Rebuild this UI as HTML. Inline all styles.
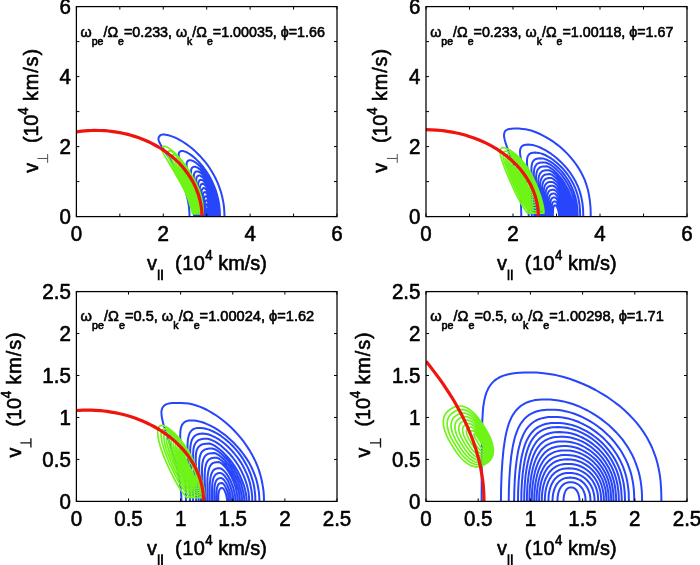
<!DOCTYPE html>
<html><head><meta charset="utf-8"><title>fig</title>
<style>html,body{margin:0;padding:0;background:#fff;overflow:hidden}svg{display:block;will-change:transform}text{font-family:"Liberation Sans",sans-serif;fill:#000;stroke:#000;stroke-width:0.6px;stroke-linejoin:round}</style></head>
<body>
<svg width="700" height="565" viewBox="0 0 700 565">
<rect width="700" height="565" fill="#fff"/>
<clipPath id="cp0"><rect x="76.40" y="6.60" width="260.60" height="210.00"/></clipPath>
<g clip-path="url(#cp0)" fill="none" stroke-linejoin="round" stroke-linecap="butt">
<path d="M224.5 216.6L224.4 213.4L224.2 209.4L223.8 205.7L223.3 202.1L222.6 198.7L221.9 195.4L221.0 192.2L220.0 189.1L217.8 183.2L216.5 180.3L214.7 176.7L213.3 174.1L211.3 170.7L209.3 167.5L207.1 164.4L204.8 161.5L202.5 158.8L200.2 156.2L197.2 153.2L194.9 150.9L191.9 148.3L188.9 146.0L186.0 143.9L183.2 142.0L179.9 140.1L176.8 138.4L173.9 137.1L171.2 136.1L168.4 135.2L165.9 134.7L163.8 134.5L162.2 134.6L161.2 134.9L160.1 135.5L159.4 136.2L158.8 137.1L158.5 138.2L158.5 139.4L158.8 140.8L159.9 143.3L161.6 146.4L170.9 160.4L173.4 164.5L175.6 168.2L177.4 171.6L179.3 175.2L181.0 178.9L182.4 182.2L184.2 187.0L185.6 191.2L186.8 195.7L187.7 199.5L188.5 203.5L189.0 207.8L189.4 212.3L189.5 216.6M220.0 216.6L219.8 210.7L219.3 205.6L218.5 200.8L217.2 195.4L215.7 190.4L213.9 185.6L211.6 180.5L209.1 175.8L206.1 171.0L202.9 166.7L199.3 162.5L195.5 158.6L193.5 156.9L191.6 155.4L189.7 154.1L188.0 153.0L186.4 152.2L184.7 151.5L183.4 151.1L182.1 151.0L181.2 151.1L180.5 151.3L179.7 151.9L179.1 152.5L178.9 153.2L178.7 154.1L178.7 155.2L178.9 156.5L179.5 158.9L180.5 161.7L185.2 173.9L187.5 180.3L189.3 185.8L190.7 191.1L192.1 197.4L193.2 204.0L193.8 210.6L194.0 216.6M218.9 216.6L218.7 211.7L218.3 207.4L217.7 202.7L216.8 198.3L215.6 194.1L214.1 189.5L212.4 185.3L210.5 181.3L208.3 177.3L205.7 173.2L203.0 169.8L200.2 166.5L197.2 163.8L194.5 161.8L193.3 161.1L192.1 160.6L190.9 160.3L190.0 160.2L189.2 160.3L188.4 160.6L187.7 161.1L187.2 161.7L186.9 162.5L186.6 163.5L186.6 164.6L186.6 166.0L186.9 168.1L187.4 170.7L191.4 186.8L192.5 192.1L193.4 196.8L194.1 201.7L194.7 207.0L195.0 212.1L195.1 216.6M217.8 216.6L217.7 212.3L217.3 208.0L216.8 204.0L216.1 200.2L215.2 196.5L214.0 192.6L212.7 188.9L211.0 185.0L209.2 181.5L207.1 178.0L205.0 175.0L202.7 172.2L200.4 169.8L198.2 168.1L197.2 167.5L196.2 167.1L195.3 166.8L194.5 166.7L193.7 166.8L192.8 167.2L192.2 167.7L191.7 168.4L191.3 169.2L191.1 170.3L191.0 172.9L191.2 175.1L191.6 178.0L194.0 192.5L195.1 200.3L195.9 208.6L196.1 212.6L196.2 216.6M216.7 216.6L216.6 212.8L216.3 208.9L215.9 205.3L215.3 201.9L214.5 198.2L213.5 194.7L212.4 191.4L211.0 187.9L209.4 184.4L207.6 181.3L205.9 178.6L204.0 176.2L202.2 174.2L200.3 172.6L198.7 171.7L197.9 171.4L197.2 171.4L196.4 171.5L195.6 171.8L195.1 172.2L194.6 172.8L194.2 173.6L194.0 174.7L193.8 177.3L193.9 179.7L194.2 182.7L195.9 196.0L196.6 203.0L197.1 210.2L197.3 216.6M215.6 216.6L215.5 213.2L215.3 209.8L214.9 206.5L214.4 203.0L213.7 199.7L212.9 196.5L212.0 193.6L210.8 190.5L209.5 187.4L208.1 184.6L206.5 182.0L204.9 179.8L203.4 178.0L201.8 176.7L200.4 175.8L199.8 175.6L199.2 175.6L198.5 175.7L197.8 176.0L197.2 176.5L196.8 177.1L196.5 177.8L196.3 178.9L196.1 181.4L196.1 183.6L196.3 186.7L197.5 199.2L198.0 205.6L198.3 211.1L198.4 216.6M214.6 216.6L214.5 213.1L214.3 210.1L214.0 207.3L213.6 204.2L213.0 201.2L212.4 198.4L211.5 195.5L210.6 192.8L209.5 190.1L208.3 187.6L207.0 185.3L205.7 183.4L204.5 181.9L203.2 180.7L202.0 180.0L201.0 179.8L200.4 179.9L199.7 180.2L199.3 180.6L198.9 181.2L198.5 182.0L198.3 183.0L198.0 185.5L198.0 187.8L198.1 191.0L199.2 208.4L199.4 216.6M213.6 216.6L213.4 210.9L212.8 205.6L211.8 200.3L210.4 195.4L209.5 192.9L208.5 190.8L207.5 188.7L206.5 187.0L205.4 185.7L204.4 184.6L203.4 184.0L202.5 183.8L201.8 184.0L201.4 184.2L201.0 184.6L200.6 185.2L200.0 186.9L199.7 189.3L199.7 194.5L200.2 209.0L200.4 216.6M212.6 216.6L212.4 211.7L212.0 206.9L211.2 202.3L210.0 197.8L208.6 193.9L207.8 192.2L207.0 190.7L206.2 189.6L205.3 188.7L204.6 188.2L203.8 188.0L203.3 188.2L202.9 188.4L202.5 188.7L202.1 189.3L201.6 190.9L201.3 193.3L201.1 195.9L201.1 199.3L201.4 216.6M211.6 216.6L211.5 212.1L211.1 208.1L210.5 204.0L209.6 200.2L208.6 196.9L207.3 194.3L206.7 193.3L206.1 192.6L205.5 192.2L204.9 192.1L204.4 192.2L204.1 192.4L203.7 192.7L203.4 193.3L202.9 194.8L202.6 197.0L202.4 199.7L202.3 203.1L202.4 216.6M210.7 216.6L210.6 212.7L210.3 209.1L209.9 205.8L209.3 202.7L208.5 199.9L207.6 197.9L207.1 197.1L206.7 196.6L206.2 196.3L205.8 196.2L205.4 196.2L205.1 196.4L204.5 197.2L204.1 198.6L203.7 200.6L203.5 203.3L203.3 206.6L203.3 216.6M209.8 216.6L209.7 213.5L209.5 210.5L209.2 207.7L208.8 205.1L208.3 203.0L207.7 201.4L207.0 200.5L206.7 200.2L206.4 200.2L205.9 200.4L205.4 201.1L205.0 202.3L204.7 204.1L204.3 209.2L204.2 216.6M208.9 216.6L208.8 211.8L208.3 207.7L208.0 206.2L207.7 205.1L207.3 204.4L206.9 204.2L206.5 204.3L206.1 204.9L205.8 205.9L205.5 207.4L205.2 211.4L205.1 216.6M208.0 216.6L207.9 213.2L207.8 210.7L207.5 209.2L207.3 208.8L207.1 208.7L206.9 208.8L206.7 209.3L206.3 211.0L206.1 213.5L206.0 216.6" stroke="#2745fa" stroke-width="2.0"/>
<path d="M193.4 178.3L189.0 170.8L185.2 165.0L183.2 162.4L181.1 159.7L178.9 157.2L176.9 155.0L174.5 152.7L172.2 150.7L169.9 148.9L167.7 147.5L165.9 146.6L164.5 146.3L163.4 146.3L163.0 146.5L162.6 146.9L162.1 147.3L161.9 147.8L161.8 148.4L161.8 149.1L162.2 150.8L163.3 153.2L165.6 157.3L174.2 171.8L181.6 184.9L183.5 188.5L185.4 192.5L187.4 197.2L189.0 201.7L190.6 206.7L192.7 214.0L202.8 214.0L203.0 210.5L202.9 206.8L202.5 202.7L201.7 198.5L200.6 194.3L199.3 190.3L197.7 186.4L195.9 182.6L193.4 178.3ZM194.1 180.4L190.2 173.2L187.0 168.1L183.4 163.0L179.8 158.6L177.8 156.5L175.8 154.6L173.9 153.1L172.3 151.9L170.9 151.2L169.7 150.9L168.8 150.9L168.1 151.4L167.5 152.2L167.3 153.2L167.6 154.7L168.3 156.6L170.4 161.1L183.9 186.5L186.3 191.3L188.2 195.7L190.0 200.6L191.4 204.9L194.2 214.0L202.1 214.0L202.4 211.6L202.5 209.0L202.4 205.7L201.9 202.1L201.3 198.7L200.4 195.1L199.2 191.5L197.7 187.6L196.2 184.3L194.1 180.4ZM194.6 182.0L191.2 175.5L188.4 170.5L185.3 165.9L182.1 161.7L180.4 159.8L178.7 158.1L177.1 156.7L175.8 155.7L174.6 155.0L173.6 154.7L172.8 154.8L172.2 155.2L171.6 155.9L171.5 157.0L171.8 158.6L172.5 160.6L174.8 165.6L186.0 188.3L187.9 192.5L189.4 196.1L190.8 200.0L194.4 211.2L195.4 214.0L201.6 214.0L202.0 211.0L202.1 207.6L201.9 204.6L201.4 201.3L200.8 198.2L200.0 194.9L198.9 191.7L197.7 188.6L196.4 185.6L194.6 182.0ZM195.0 183.6L192.0 177.3L189.5 172.8L186.9 168.6L184.2 164.8L181.3 161.5L180.0 160.3L178.9 159.4L177.9 158.8L177.1 158.5L176.4 158.5L175.8 158.9L175.4 159.2L175.2 159.6L175.2 160.7L175.5 162.2L176.2 164.5L178.8 170.6L185.1 184.3L187.6 189.4L189.1 192.9L191.7 199.7L195.4 210.9L196.1 212.7L196.8 214.0L200.8 214.0L201.3 212.5L201.6 210.7L201.7 208.5L201.7 206.1L201.4 203.6L201.0 200.9L200.5 198.2L199.7 195.2L198.8 192.3L197.7 189.5L196.6 186.7L195.0 183.6ZM195.4 185.0L192.4 178.6L190.0 174.0L187.2 169.5L184.6 166.0L183.3 164.5L182.1 163.3L181.0 162.5L180.2 162.2L179.4 162.2L178.7 162.7L178.4 163.4L178.4 164.5L179.1 167.0L180.7 171.2L185.9 183.3L189.2 190.8L190.8 194.7L192.5 199.2L195.4 208.0L196.4 210.7L197.1 212.2L197.8 213.1L198.5 213.5L199.3 213.6L200.0 213.3L200.4 212.8L200.9 211.8L201.1 210.4L201.3 208.7L201.3 206.8L201.2 204.8L201.0 202.5L200.2 198.3L199.0 194.0L197.5 189.7L195.4 185.0ZM195.7 186.4L193.2 180.7L191.0 176.4L188.7 172.4L186.4 169.1L185.4 167.8L184.4 166.8L183.5 166.1L182.8 165.8L182.1 165.8L181.5 166.3L181.3 166.9L181.3 167.9L181.9 170.1L183.0 173.3L186.4 181.9L191.5 194.1L193.1 198.3L195.8 206.4L196.7 208.9L197.4 210.3L198.0 211.3L198.6 211.7L199.4 211.7L199.9 211.5L200.3 211.0L200.6 210.1L200.9 208.9L201.0 205.8L200.6 202.1L199.9 198.4L198.8 194.4L197.5 190.6L195.7 186.4ZM196.0 187.8L193.8 182.5L192.0 178.7L190.0 175.1L188.1 172.2L186.3 170.2L185.6 169.6L185.1 169.4L184.5 169.4L184.0 169.8L183.9 170.4L184.0 171.4L184.5 173.5L185.6 176.7L188.5 184.3L192.6 194.5L197.0 207.1L197.6 208.6L198.2 209.4L198.7 209.9L199.4 209.9L199.8 209.8L200.1 209.4L200.4 208.6L200.5 207.7L200.6 205.0L200.3 201.8L199.6 198.5L198.7 195.0L197.5 191.4L196.0 187.8ZM196.3 189.1L194.4 184.5L192.8 181.1L191.2 177.9L189.7 175.4L188.2 173.6L187.6 173.1L187.2 172.9L186.7 173.0L186.4 173.3L186.3 173.8L186.3 174.7L186.8 176.6L187.8 179.6L193.5 194.6L197.3 205.6L197.9 206.9L198.4 207.7L198.8 208.1L199.3 208.2L199.7 208.0L199.9 207.7L200.2 206.2L200.2 203.9L199.9 201.2L199.3 198.3L198.5 195.3L197.5 192.3L196.3 189.1ZM196.5 190.5L195.0 186.6L193.7 183.7L192.4 180.9L191.1 178.8L190.0 177.2L189.5 176.7L189.1 176.5L188.8 176.5L188.5 176.7L188.4 177.2L188.5 177.9L188.8 179.3L189.6 181.6L194.4 194.6L197.6 204.2L198.5 206.0L198.9 206.4L199.3 206.4L199.5 206.3L199.7 206.0L199.9 204.9L199.8 203.1L199.5 200.7L199.0 198.3L198.4 195.8L197.5 193.3L196.5 190.5ZM196.7 191.7L194.6 186.4L193.5 184.1L192.5 182.2L191.5 180.8L190.9 180.1L190.6 180.0L190.4 180.1L190.4 180.9L191.2 183.5L195.3 194.7L198.0 203.1L198.6 204.5L198.9 204.7L199.2 204.7L199.3 204.6L199.4 204.4L199.5 203.5L199.4 202.0L199.1 200.1L198.1 196.1L196.7 191.7ZM196.9 193.0L195.6 189.6L194.2 186.6L192.8 184.2L192.3 183.6L192.0 183.5L192.0 183.9L192.3 184.7L194.6 190.4L195.8 193.9L198.7 202.8L198.9 203.0L199.0 203.1L199.1 202.7L199.1 201.7L198.8 200.2L198.0 196.7L196.9 193.0Z" stroke="#6ef416" stroke-width="1.7"/>
<path d="M76.4 131.9L81.8 131.2L84.9 130.9L88.0 130.6L91.1 130.5L94.2 130.4L99.6 130.5L105.1 130.7L108.2 131.0L111.3 131.3L116.6 132.1L119.7 132.6L122.7 133.2L128.0 134.4L130.9 135.2L133.8 136.1L138.9 137.8L143.8 139.7L148.6 141.8L151.3 143.1L153.9 144.5L158.4 147.0L160.9 148.5L163.3 150.1L165.7 151.7L168.0 153.4L170.2 155.2L171.9 156.5L173.5 157.9L175.6 159.8L177.6 161.7L179.6 163.7L181.4 165.7L182.8 167.2L184.5 169.3L186.2 171.5L187.8 173.6L188.9 175.3L190.4 177.5L191.8 179.8L193.1 182.1L194.3 184.5L195.4 186.8L196.2 188.6L197.1 191.0L197.8 192.8L198.6 195.3L199.3 197.8L200.0 200.2L200.4 202.1L200.9 204.6L201.3 207.1L201.6 209.6L201.8 212.2L201.9 214.7L201.9 216.6" stroke="#ee150e" stroke-width="3.2"/>
</g>
<rect x="76.40" y="6.60" width="260.60" height="210.00" fill="none" stroke="#000" stroke-width="1.25"/>
<path d="M76.40 216.60v-3.0M76.40 6.60v3.0M119.83 216.60v-3.0M119.83 6.60v3.0M163.27 216.60v-3.0M163.27 6.60v3.0M206.70 216.60v-3.0M206.70 6.60v3.0M250.13 216.60v-3.0M250.13 6.60v3.0M293.57 216.60v-3.0M293.57 6.60v3.0M337.00 216.60v-3.0M337.00 6.60v3.0M76.40 216.60h3.0M337.00 216.60h-3.0M76.40 181.60h3.0M337.00 181.60h-3.0M76.40 146.60h3.0M337.00 146.60h-3.0M76.40 111.60h3.0M337.00 111.60h-3.0M76.40 76.60h3.0M337.00 76.60h-3.0M76.40 41.60h3.0M337.00 41.60h-3.0M76.40 6.60h3.0M337.00 6.60h-3.0" stroke="#000" stroke-width="1" fill="none"/>
<text transform="translate(76.40,241.20) scale(0.96,1)" font-size="21.4" text-anchor="middle">0</text>
<text transform="translate(163.27,241.20) scale(0.96,1)" font-size="21.4" text-anchor="middle">2</text>
<text transform="translate(250.13,241.20) scale(0.96,1)" font-size="21.4" text-anchor="middle">4</text>
<text transform="translate(337.00,241.20) scale(0.96,1)" font-size="21.4" text-anchor="middle">6</text>
<text transform="translate(70.90,224.40) scale(0.96,1)" font-size="21.4" text-anchor="end">0</text>
<text transform="translate(70.90,154.40) scale(0.96,1)" font-size="21.4" text-anchor="end">2</text>
<text transform="translate(70.90,84.40) scale(0.96,1)" font-size="21.4" text-anchor="end">4</text>
<text transform="translate(70.90,14.40) scale(0.96,1)" font-size="21.4" text-anchor="end">6</text>
<g transform="translate(147.10,269.70) scale(0.95,1)"><text x="0" y="0" font-size="21.0">v</text><text x="29.4" y="0" font-size="21.0"><tspan letter-spacing="0.5">(10</tspan><tspan dy="-10.0" font-size="14.0">4</tspan><tspan dy="10.0" font-size="21.0" letter-spacing="0"> km/s)</tspan></text><path d="M12.2 -0.2v10.7M15.7 -0.2v10.7" stroke="#000" stroke-width="1.9" fill="none"/></g>
<g transform="translate(37.80,174.00) rotate(-90) scale(0.9405,1.0)"><text x="1.3" y="0" font-size="21.0">v</text><text x="32.9" y="0" font-size="21.0"><tspan letter-spacing="-0.1">(10</tspan><tspan dy="-10.0" font-size="14.0">4</tspan><tspan dy="10.0" font-size="21.0" letter-spacing="1.0"> km/s)</tspan></text><path d="M11.8 9.84h9.41M16.50 9.84v-10.27" stroke="#444" stroke-width="0.95" fill="none"/></g>
<text transform="translate(80.60,37.40) scale(0.9930,1)" font-size="14.4">ω<tspan dy="7.7" font-size="10.6">pe</tspan><tspan dy="-7.7" font-size="14.4">/Ω</tspan><tspan dy="7.7" font-size="10.6">e</tspan><tspan dy="-7.7" font-size="14.4">=0.233, ω</tspan><tspan dy="7.7" font-size="10.6">k</tspan><tspan dy="-7.7" font-size="14.4">/Ω</tspan><tspan dy="7.7" font-size="10.6">e</tspan><tspan dy="-7.7" font-size="14.4">=1.00035, ϕ=1.66</tspan></text>
<clipPath id="cp1"><rect x="426.00" y="6.60" width="261.00" height="210.00"/></clipPath>
<g clip-path="url(#cp1)" fill="none" stroke-linejoin="round" stroke-linecap="butt">
<path d="M590.7 216.6L590.7 212.1L590.5 207.5L590.2 204.0L589.7 199.5L589.1 195.6L588.2 191.0L587.3 187.8L586.1 183.9L584.8 180.2L583.3 176.8L581.7 173.6L579.6 169.8L577.8 166.9L575.5 163.5L573.1 160.3L570.6 157.3L567.5 153.9L564.3 150.8L561.1 147.8L557.8 145.1L554.0 142.2L550.1 139.6L546.3 137.3L542.6 135.3L538.9 133.5L535.3 132.0L531.8 130.8L528.8 129.9L525.7 129.3L522.5 128.9L518.8 128.6L514.4 128.6L511.4 128.7L509.3 128.9L507.5 129.5L506.1 130.3L505.0 131.3L504.4 132.6L504.1 134.1L504.0 136.1L504.6 139.3L505.7 143.4L507.2 147.6L512.0 160.7L514.7 168.9L516.5 175.6L518.1 182.0L519.5 189.9L520.1 194.6L520.6 198.6L520.9 202.8L521.1 207.4L521.3 216.6M583.3 216.6L583.1 209.6L582.5 203.7L582.0 200.6L581.4 197.6L580.7 194.7L579.9 191.9L578.9 189.2L577.9 186.5L576.7 183.9L575.2 180.8L573.8 178.4L572.0 175.5L570.5 173.2L568.5 170.5L566.4 167.9L564.2 165.4L562.0 163.1L559.2 160.5L556.5 158.0L553.7 155.8L550.9 153.7L548.1 151.8L545.4 150.2L542.7 148.8L540.2 147.5L537.3 146.4L534.9 145.6L532.7 145.0L530.4 144.7L528.0 144.6L526.1 144.7L524.4 145.0L523.0 145.5L521.8 146.4L521.0 147.3L520.4 148.8L520.1 150.2L520.0 152.1L520.2 155.1L520.8 158.4L525.0 177.8L526.2 183.9L527.1 189.8L527.8 196.2L528.3 203.0L528.6 209.6L528.7 216.6M580.2 216.6L580.0 210.3L579.5 204.5L578.6 199.1L577.3 194.0L575.7 189.3L573.5 184.2L570.9 179.5L568.1 175.2L566.4 172.9L564.3 170.3L562.5 168.2L560.3 166.0L556.1 162.2L553.9 160.4L551.6 158.8L549.4 157.3L547.2 156.1L545.1 155.0L542.7 154.0L540.7 153.4L538.8 152.9L536.8 152.7L535.0 152.6L533.0 152.7L531.5 153.0L530.3 153.5L529.1 154.3L528.3 155.4L527.6 156.7L527.2 158.3L527.0 160.4L527.0 163.5L527.3 167.1L529.9 185.3L531.0 195.3L531.6 205.2L531.8 216.6M577.7 216.6L577.5 210.9L577.1 206.1L576.4 201.5L575.2 196.5L573.9 192.2L572.0 187.6L569.9 183.3L567.5 179.2L564.6 175.0L561.2 170.9L557.6 167.3L554.1 164.2L552.2 162.8L550.3 161.6L548.5 160.6L546.7 159.7L545.1 159.1L543.5 158.6L541.9 158.4L540.7 158.3L538.5 158.4L536.7 158.7L535.3 159.2L534.2 160.0L533.2 161.1L532.4 162.5L531.9 164.2L531.6 166.1L531.4 169.3L531.5 172.9L531.9 177.9L533.2 192.1L533.8 198.9L534.2 207.5L534.3 216.6M576.1 216.6L576.0 212.1L575.5 207.6L574.8 203.1L573.9 199.1L572.7 195.1L571.1 190.8L569.1 186.6L567.0 182.7L564.3 178.6L561.5 174.9L558.6 171.6L555.4 168.5L552.3 166.0L550.6 164.9L549.1 164.0L547.6 163.3L546.2 162.8L545.0 162.5L544.0 162.4L541.6 162.5L539.8 162.7L538.4 163.2L537.1 163.9L536.1 164.9L535.2 166.4L534.5 168.1L534.1 170.1L533.8 173.3L533.9 177.8L534.1 182.2L535.5 201.6L535.8 209.1L535.9 216.6M574.6 216.6L574.4 213.2L574.0 209.2L573.3 205.3L572.4 201.2L571.1 197.2L569.7 193.5L568.2 190.0L566.2 186.2L564.1 182.6L561.8 179.2L559.1 175.9L556.5 172.9L553.7 170.3L551.1 168.3L548.6 166.9L547.5 166.4L546.7 166.3L544.1 166.4L542.3 166.6L540.8 167.0L539.5 167.7L538.4 168.7L537.5 170.0L536.9 171.6L536.4 173.7L536.0 177.1L535.9 181.9L536.1 186.5L537.1 204.4L537.3 210.3L537.4 216.6M573.0 216.6L572.9 213.5L572.5 209.8L571.9 206.2L571.0 202.4L569.9 198.7L568.7 195.3L567.4 192.1L565.7 188.5L563.8 185.2L561.8 182.1L559.5 179.0L557.2 176.3L554.7 173.9L552.4 172.0L550.2 170.7L549.2 170.3L548.5 170.2L546.1 170.3L544.5 170.5L543.0 170.9L541.7 171.6L540.7 172.6L539.9 173.8L539.2 175.3L538.7 177.2L538.4 179.0L538.2 181.0L538.1 186.2L538.2 191.0L538.8 206.6L539.0 216.6M571.5 216.6L571.4 213.4L571.0 210.0L570.4 206.7L569.6 203.2L568.6 199.8L567.6 196.7L566.4 193.8L564.9 190.6L563.2 187.5L561.4 184.7L559.4 181.9L557.4 179.5L555.2 177.3L553.2 175.7L551.3 174.5L550.5 174.2L549.9 174.1L547.7 174.2L546.0 174.4L544.7 174.8L543.6 175.5L542.6 176.4L541.8 177.7L541.2 179.1L540.6 180.9L540.3 182.6L540.1 184.7L539.9 189.9L540.4 209.2L540.5 216.6M569.9 216.6L569.8 213.7L569.4 210.6L568.9 207.6L568.3 204.5L567.4 201.3L566.5 198.6L565.4 195.9L564.1 192.9L562.7 190.2L561.1 187.6L559.4 185.1L557.6 182.9L555.7 180.9L553.9 179.4L552.3 178.4L551.6 178.1L551.0 178.0L549.0 178.0L547.5 178.3L546.4 178.6L545.3 179.2L544.4 180.1L543.6 181.2L543.0 182.7L542.5 184.4L542.2 186.1L542.0 188.1L541.7 193.0L542.1 216.6M568.4 216.6L568.3 214.0L568.0 211.2L567.6 208.5L567.0 205.7L566.2 202.9L565.3 200.1L564.4 197.7L563.2 195.1L562.0 192.6L560.7 190.3L559.1 188.1L557.6 186.1L556.1 184.5L554.6 183.2L553.1 182.2L552.0 181.9L550.2 181.9L548.9 182.1L547.7 182.5L546.8 183.1L546.0 183.9L545.3 184.9L544.7 186.2L544.2 187.8L543.9 189.4L543.7 191.4L543.4 196.1L543.6 216.6M566.8 216.6L566.7 214.3L566.4 211.8L566.1 209.4L565.6 206.9L564.9 204.4L564.2 201.9L562.4 197.5L561.3 195.3L560.1 193.1L558.9 191.3L557.6 189.5L556.3 188.1L555.0 186.9L553.8 186.1L552.8 185.8L551.3 185.8L550.1 186.0L549.1 186.3L548.2 186.9L547.5 187.5L546.9 188.5L546.3 189.7L545.9 191.0L545.4 194.2L545.1 198.7L545.1 203.4L545.2 216.6M565.3 216.6L565.0 212.4L564.3 208.1L563.1 203.8L561.6 199.9L560.7 198.0L559.7 196.0L558.7 194.5L557.6 193.0L556.5 191.6L555.4 190.6L554.4 190.0L553.6 189.7L552.3 189.7L551.3 189.9L550.4 190.2L549.6 190.6L548.9 191.3L548.4 192.1L547.9 193.2L547.5 194.4L547.0 197.4L546.7 201.4L546.6 205.9L546.7 216.6M563.7 216.6L563.5 213.0L562.8 209.2L561.8 205.4L560.6 202.1L559.1 198.9L557.4 196.3L556.6 195.2L555.7 194.4L554.9 193.8L554.2 193.6L553.0 193.6L552.2 193.8L551.4 194.0L550.8 194.4L550.3 195.0L549.8 195.8L549.4 196.7L549.1 197.7L548.6 200.3L548.4 203.7L548.3 207.9L548.3 216.6M562.2 216.6L562.0 213.6L561.5 210.6L560.8 207.5L559.8 204.6L558.6 201.9L557.3 199.7L556.0 198.1L555.3 197.7L554.8 197.5L553.2 197.6L552.6 197.9L552.1 198.2L551.6 198.7L551.2 199.3L550.6 201.0L550.1 203.3L549.9 206.2L549.8 210.0L549.8 216.6M560.6 216.6L560.5 214.2L560.1 211.8L559.6 209.4L558.9 207.0L558.0 204.9L557.1 203.2L556.1 201.9L555.6 201.6L555.2 201.4L554.0 201.5L553.2 202.0L552.5 202.9L552.0 204.3L551.7 206.1L551.5 208.5L551.4 216.6M559.1 216.6L559.0 214.8L558.8 212.9L558.4 211.1L558.0 209.3L557.4 207.7L556.8 206.5L556.1 205.6L555.6 205.2L554.8 205.3L554.2 205.6L553.7 206.4L553.4 207.4L553.1 208.8L553.0 210.7L552.9 216.6" stroke="#2745fa" stroke-width="2.0"/>
<path d="M533.5 178.5L531.9 175.2L530.3 172.2L528.5 169.3L526.3 166.1L524.2 163.3L521.8 160.5L519.7 158.1L517.2 155.7L514.8 153.6L512.2 151.7L509.8 150.1L507.4 148.8L505.2 148.0L503.4 147.6L502.7 147.6L502.0 147.8L501.5 148.0L501.1 148.4L500.7 148.9L500.4 149.5L500.1 151.0L500.2 153.0L500.5 155.5L501.3 158.3L502.4 161.8L503.9 166.0L505.8 170.9L508.9 178.2L512.5 186.5L515.2 192.3L517.6 197.1L520.1 201.7L522.7 206.2L525.1 209.8L527.5 213.1L543.9 213.1L543.8 210.2L543.3 206.6L542.4 202.6L541.3 198.4L539.9 194.0L538.1 189.2L535.9 183.9L533.5 178.5ZM532.8 179.0L531.4 176.1L529.9 173.4L528.3 170.8L526.3 167.9L524.5 165.4L522.4 162.9L520.5 160.8L518.3 158.6L516.2 156.7L513.9 154.9L511.7 153.5L509.6 152.3L507.7 151.6L506.1 151.3L504.8 151.4L504.4 151.6L504.0 151.9L503.6 152.5L503.4 153.2L503.2 154.0L503.2 155.0L503.4 157.3L504.0 160.2L505.0 163.5L506.6 167.8L508.7 173.0L511.3 179.2L514.4 186.4L516.9 191.6L519.2 196.2L521.4 200.3L523.7 204.2L526.0 207.6L528.3 210.7L530.4 213.1L541.7 213.1L542.1 210.8L542.1 208.2L541.7 205.1L541.1 201.6L540.0 197.8L538.7 193.5L537.0 188.9L535.1 184.2L532.8 179.0ZM532.2 179.4L530.9 176.8L529.6 174.4L528.1 172.0L526.4 169.4L524.7 167.1L522.8 164.8L521.1 162.9L519.2 160.9L517.2 159.2L515.2 157.6L513.3 156.3L511.3 155.2L509.6 154.5L508.2 154.2L507.1 154.3L506.7 154.5L506.4 154.8L506.0 155.4L505.8 156.0L505.6 157.7L505.9 160.0L506.6 162.9L507.6 166.2L509.2 170.4L511.3 175.6L514.1 182.1L518.7 192.1L520.7 196.1L522.9 199.9L524.9 203.3L527.0 206.3L529.1 208.9L530.9 210.9L532.4 212.2L533.9 213.1L538.4 213.1L539.3 212.4L540.0 211.3L540.5 209.8L540.7 207.9L540.7 205.5L540.3 202.7L539.6 199.4L538.7 196.2L537.5 192.3L536.0 188.4L534.3 184.2L532.2 179.4ZM531.6 179.8L529.3 175.3L528.0 173.1L526.4 170.7L524.9 168.7L523.2 166.6L519.9 163.1L518.2 161.5L516.4 160.0L514.7 158.8L513.0 157.8L511.6 157.3L510.3 157.0L509.3 157.0L508.6 157.4L508.2 157.9L508.0 158.4L507.9 159.9L508.1 161.8L508.7 164.4L509.6 167.3L510.9 171.1L515.1 181.1L519.4 190.6L521.3 194.3L523.2 197.8L525.1 200.9L527.0 203.8L528.9 206.2L530.6 208.0L532.3 209.5L533.8 210.4L535.1 210.8L536.4 210.7L537.1 210.4L537.7 210.0L538.2 209.5L538.6 209.0L538.9 208.4L539.2 207.5L539.4 205.6L539.3 203.4L539.0 200.8L538.4 197.9L537.6 194.9L536.4 191.5L535.1 187.9L533.5 184.1L531.6 179.8ZM531.1 180.2L529.0 176.1L526.5 172.0L523.6 168.3L520.7 165.1L519.2 163.7L517.6 162.3L516.0 161.2L514.5 160.4L513.3 159.8L512.1 159.5L511.3 159.6L510.7 159.9L510.4 160.4L510.2 160.8L510.0 162.2L510.2 163.9L510.7 166.2L511.6 168.8L512.8 172.2L516.4 181.0L520.4 189.7L522.1 193.1L523.8 196.2L525.5 199.0L527.2 201.7L528.9 203.8L530.4 205.5L531.9 206.8L533.2 207.6L534.5 207.9L535.5 207.9L536.7 207.3L537.5 206.4L538.0 205.1L538.2 203.3L538.1 201.5L537.8 199.2L537.3 196.7L536.5 193.8L535.4 190.7L534.3 187.5L531.1 180.2ZM530.6 180.6L528.8 176.9L526.6 173.4L524.1 170.1L521.6 167.2L518.8 164.7L517.5 163.7L516.1 162.8L515.0 162.3L514.0 162.0L513.2 162.0L512.7 162.3L512.4 162.7L512.2 163.1L512.1 164.2L512.3 165.8L512.7 167.8L513.4 170.1L514.4 172.9L517.5 180.5L521.1 188.4L524.2 194.4L525.7 196.9L527.2 199.3L528.7 201.3L530.1 202.9L531.5 204.1L532.6 204.9L533.7 205.2L534.6 205.2L535.7 204.7L536.4 204.0L536.8 202.8L537.0 201.3L536.9 199.6L536.6 197.5L536.1 195.2L535.4 192.7L533.4 187.1L530.6 180.6ZM530.2 180.9L528.5 177.7L526.5 174.4L524.4 171.5L522.1 168.9L519.8 166.7L517.6 165.2L516.6 164.7L515.7 164.4L515.1 164.4L514.6 164.7L514.2 165.4L514.1 166.4L514.3 167.7L514.7 169.5L516.2 174.0L518.8 180.6L522.1 187.7L524.7 193.0L527.4 197.3L528.7 199.1L530.0 200.5L531.1 201.6L532.1 202.3L533.1 202.6L533.9 202.6L534.8 202.2L535.3 201.5L535.7 200.5L535.8 199.2L535.8 197.7L535.5 195.9L535.0 193.9L534.4 191.6L532.6 186.7L530.2 180.9ZM529.7 181.3L528.3 178.4L526.6 175.6L524.7 173.0L522.8 170.8L520.8 168.8L518.9 167.5L518.2 167.0L517.4 166.8L516.9 166.8L516.5 167.0L516.2 167.5L516.1 168.3L516.2 169.4L516.5 170.9L517.8 174.8L520.0 180.3L522.8 186.6L525.1 191.3L527.5 195.3L528.7 196.9L529.7 198.1L530.7 199.1L531.6 199.7L532.4 200.0L533.1 200.0L533.9 199.7L534.3 199.1L534.6 198.3L534.7 197.1L534.6 195.8L534.4 194.3L533.4 190.6L531.8 186.3L529.7 181.3ZM529.2 181.6L528.0 179.2L526.6 176.8L525.1 174.5L523.5 172.6L521.8 170.9L520.4 169.7L519.1 169.1L518.7 169.1L518.4 169.2L518.1 169.6L518.0 170.3L518.1 171.2L518.4 172.5L519.4 175.8L521.2 180.3L523.6 185.7L525.7 189.9L527.7 193.3L529.5 195.8L530.4 196.7L531.1 197.2L531.7 197.5L532.3 197.5L532.9 197.3L533.3 196.8L533.6 196.1L533.6 195.2L533.3 192.8L532.5 189.7L531.1 185.9L529.2 181.6ZM528.8 181.9L527.8 179.9L526.6 177.9L525.4 176.0L524.1 174.4L522.8 172.9L521.7 171.9L520.8 171.4L520.4 171.3L520.2 171.4L520.0 171.7L519.9 172.3L520.2 174.1L521.0 176.8L522.5 180.4L524.4 184.8L526.1 188.4L527.8 191.3L529.3 193.5L530.6 194.7L531.1 195.0L531.5 195.1L532.1 194.9L532.3 194.6L532.5 194.0L532.5 193.2L532.2 191.2L531.5 188.6L530.3 185.5L528.8 181.9ZM528.3 182.3L526.7 179.0L524.7 176.1L523.8 174.9L523.0 174.1L522.3 173.6L521.9 173.6L521.8 173.8L521.8 174.3L522.0 175.7L522.7 177.9L523.7 180.6L525.0 183.7L526.6 186.9L527.9 189.4L529.1 191.2L530.1 192.3L530.5 192.6L530.8 192.7L531.2 192.6L531.4 192.3L531.5 191.9L531.5 191.3L531.2 189.8L530.6 187.7L529.6 185.2L528.3 182.3ZM527.9 182.6L525.9 178.7L525.0 177.2L524.3 176.1L523.8 175.7L523.7 175.7L523.6 175.9L523.7 176.7L524.0 178.1L525.5 182.0L527.6 186.6L529.3 189.4L529.9 190.1L530.3 190.3L530.5 190.1L530.5 189.7L530.2 188.2L529.3 185.7L527.9 182.6Z" stroke="#6ef416" stroke-width="1.7"/>
<path d="M426.0 129.7L431.2 129.8L436.3 130.1L441.5 130.5L444.4 130.9L447.3 131.3L452.3 132.1L455.2 132.7L458.1 133.3L463.0 134.5L465.8 135.3L468.5 136.2L473.2 137.7L475.9 138.7L478.5 139.8L483.1 141.7L485.6 142.9L488.1 144.1L492.3 146.4L494.7 147.8L497.0 149.2L500.9 151.8L503.1 153.4L505.2 155.0L507.3 156.6L509.3 158.3L512.7 161.3L515.9 164.4L517.6 166.3L519.3 168.1L520.9 170.1L522.5 172.0L525.0 175.5L526.4 177.5L527.7 179.6L529.8 183.2L530.9 185.3L531.9 187.5L533.5 191.3L534.3 193.5L535.1 195.7L536.2 199.6L536.8 201.8L537.2 204.1L537.9 208.0L538.2 212.0L538.4 214.3L538.4 216.6" stroke="#ee150e" stroke-width="3.2"/>
</g>
<rect x="426.00" y="6.60" width="261.00" height="210.00" fill="none" stroke="#000" stroke-width="1.25"/>
<path d="M426.00 216.60v-3.0M426.00 6.60v3.0M469.50 216.60v-3.0M469.50 6.60v3.0M513.00 216.60v-3.0M513.00 6.60v3.0M556.50 216.60v-3.0M556.50 6.60v3.0M600.00 216.60v-3.0M600.00 6.60v3.0M643.50 216.60v-3.0M643.50 6.60v3.0M687.00 216.60v-3.0M687.00 6.60v3.0M426.00 216.60h3.0M687.00 216.60h-3.0M426.00 181.60h3.0M687.00 181.60h-3.0M426.00 146.60h3.0M687.00 146.60h-3.0M426.00 111.60h3.0M687.00 111.60h-3.0M426.00 76.60h3.0M687.00 76.60h-3.0M426.00 41.60h3.0M687.00 41.60h-3.0M426.00 6.60h3.0M687.00 6.60h-3.0" stroke="#000" stroke-width="1" fill="none"/>
<text transform="translate(426.00,241.20) scale(0.96,1)" font-size="21.4" text-anchor="middle">0</text>
<text transform="translate(513.00,241.20) scale(0.96,1)" font-size="21.4" text-anchor="middle">2</text>
<text transform="translate(600.00,241.20) scale(0.96,1)" font-size="21.4" text-anchor="middle">4</text>
<text transform="translate(687.00,241.20) scale(0.96,1)" font-size="21.4" text-anchor="middle">6</text>
<text transform="translate(420.50,224.40) scale(0.96,1)" font-size="21.4" text-anchor="end">0</text>
<text transform="translate(420.50,154.40) scale(0.96,1)" font-size="21.4" text-anchor="end">2</text>
<text transform="translate(420.50,84.40) scale(0.96,1)" font-size="21.4" text-anchor="end">4</text>
<text transform="translate(420.50,14.40) scale(0.96,1)" font-size="21.4" text-anchor="end">6</text>
<g transform="translate(496.90,269.70) scale(0.95,1)"><text x="0" y="0" font-size="21.0">v</text><text x="29.4" y="0" font-size="21.0"><tspan letter-spacing="0.5">(10</tspan><tspan dy="-10.0" font-size="14.0">4</tspan><tspan dy="10.0" font-size="21.0" letter-spacing="0"> km/s)</tspan></text><path d="M12.2 -0.2v10.7M15.7 -0.2v10.7" stroke="#000" stroke-width="1.9" fill="none"/></g>
<g transform="translate(387.40,174.00) rotate(-90) scale(0.9405,1.0)"><text x="1.3" y="0" font-size="21.0">v</text><text x="32.9" y="0" font-size="21.0"><tspan letter-spacing="-0.1">(10</tspan><tspan dy="-10.0" font-size="14.0">4</tspan><tspan dy="10.0" font-size="21.0" letter-spacing="1.0"> km/s)</tspan></text><path d="M11.8 9.84h9.41M16.50 9.84v-10.27" stroke="#444" stroke-width="0.95" fill="none"/></g>
<text transform="translate(430.20,37.40) scale(0.9930,1)" font-size="14.4">ω<tspan dy="7.7" font-size="10.6">pe</tspan><tspan dy="-7.7" font-size="14.4">/Ω</tspan><tspan dy="7.7" font-size="10.6">e</tspan><tspan dy="-7.7" font-size="14.4">=0.233, ω</tspan><tspan dy="7.7" font-size="10.6">k</tspan><tspan dy="-7.7" font-size="14.4">/Ω</tspan><tspan dy="7.7" font-size="10.6">e</tspan><tspan dy="-7.7" font-size="14.4">=1.00118, ϕ=1.67</tspan></text>
<clipPath id="cp2"><rect x="76.40" y="291.60" width="260.60" height="209.80"/></clipPath>
<g clip-path="url(#cp2)" fill="none" stroke-linejoin="round" stroke-linecap="butt">
<path d="M264.0 501.4L263.9 496.9L263.6 492.0L263.1 488.1L262.3 483.3L261.4 479.0L260.4 475.1L259.0 470.4L257.4 466.0L255.7 461.9L253.8 458.0L251.9 454.4L249.4 450.1L246.8 446.1L244.1 442.2L241.3 438.6L237.9 434.6L234.4 430.8L230.9 427.3L227.3 424.0L223.1 420.5L219.5 417.7L215.3 414.8L211.2 412.3L207.1 410.0L203.0 408.0L199.6 406.6L195.6 405.2L192.2 404.3L188.7 403.6L185.0 403.2L181.3 403.0L176.5 402.9L171.9 403.0L169.0 403.4L166.7 404.1L165.8 404.5L164.7 405.2L164.0 405.8L163.2 406.7L162.5 407.7L162.0 408.8L161.8 409.7L161.5 411.0L161.4 412.5L161.5 414.0L161.7 416.1L162.1 418.8L163.5 424.5L165.4 430.4L170.6 445.9L173.2 454.1L175.6 462.2L177.6 470.1L179.3 478.8L180.4 486.1L181.1 493.2L181.3 496.6L181.4 501.4M259.4 501.4L259.3 497.6L259.1 494.5L258.8 491.5L258.2 487.8L257.5 484.3L256.7 480.9L255.7 477.6L254.5 474.4L253.3 471.3L251.6 467.5L250.1 464.6L248.1 461.1L246.4 458.4L244.1 455.1L241.8 452.0L239.3 448.9L236.8 446.1L233.7 442.8L231.0 440.2L227.7 437.3L224.5 434.6L221.2 432.2L217.9 429.9L214.6 427.9L211.4 426.1L208.2 424.6L205.2 423.3L202.2 422.2L199.2 421.4L196.3 420.8L193.5 420.5L190.7 420.4L188.3 420.6L186.2 421.2L184.5 422.1L183.1 423.5L181.9 425.2L181.1 427.3L180.6 429.7L180.3 432.5L180.2 437.0L180.7 443.3L181.3 449.1L183.8 468.0L185.1 480.0L185.8 491.0L186.0 501.4M255.4 501.4L255.2 495.1L254.8 491.6L254.4 488.3L253.8 485.1L253.1 482.0L252.2 479.1L251.3 476.2L250.3 473.4L248.9 470.0L247.7 467.4L246.0 464.2L244.3 461.2L242.5 458.2L240.5 455.4L238.5 452.7L236.4 450.2L233.9 447.3L231.7 445.0L229.0 442.4L226.7 440.4L224.0 438.2L221.3 436.2L218.6 434.4L215.9 432.9L213.3 431.5L210.7 430.3L208.1 429.4L205.6 428.7L203.5 428.3L200.9 428.0L198.5 427.9L196.4 428.1L194.5 428.6L192.8 429.5L192.0 430.1L191.2 430.9L190.0 432.5L189.0 434.7L188.3 437.4L187.8 440.4L187.5 445.3L187.5 451.8L187.9 458.0L189.0 474.5L189.5 483.4L189.9 492.7L190.0 501.4M252.3 501.4L252.2 498.4L252.1 495.5L251.4 489.9L250.3 484.5L249.6 481.9L248.6 478.7L247.7 476.1L246.4 473.1L243.9 467.7L241.0 462.6L237.8 457.9L233.9 453.0L232.0 450.8L229.5 448.2L227.5 446.2L225.0 444.0L222.5 442.0L220.0 440.2L218.0 438.9L215.6 437.5L213.2 436.3L210.9 435.3L208.7 434.5L206.6 434.0L204.6 433.7L202.9 433.6L200.2 433.7L198.1 434.2L197.0 434.5L196.1 435.0L195.2 435.6L194.4 436.2L193.1 437.8L192.0 439.7L191.2 442.0L190.6 445.0L190.3 447.2L190.2 450.0L190.3 456.3L190.7 463.0L192.0 479.2L192.6 486.7L193.0 494.2L193.1 501.4M249.2 501.4L249.0 496.7L248.4 491.6L247.3 486.4L245.7 481.2L244.0 476.6L241.7 471.6L239.1 466.7L236.2 462.2L232.7 457.5L229.0 453.2L225.2 449.4L221.1 445.8L217.1 442.9L215.0 441.6L213.0 440.6L211.1 439.8L209.3 439.2L207.7 438.8L206.4 438.7L203.6 438.8L201.1 439.2L199.1 439.9L197.5 440.9L196.2 442.2L195.0 444.0L194.1 446.2L193.5 448.8L193.3 451.0L193.1 453.5L193.2 459.6L193.7 466.1L195.6 487.6L196.0 494.7L196.2 501.4M246.7 501.4L246.5 497.5L245.8 492.9L244.8 488.4L243.5 484.3L241.7 479.6L239.9 475.4L237.7 471.3L235.1 466.9L232.2 462.7L228.8 458.5L225.3 454.6L221.9 451.2L218.2 448.2L214.9 445.9L213.3 445.0L211.8 444.3L210.3 443.8L209.3 443.6L206.1 443.7L203.9 443.9L201.9 444.5L200.2 445.4L198.8 446.7L197.7 448.2L196.8 450.1L196.2 452.6L195.9 454.6L195.8 457.1L195.7 459.8L195.8 462.9L196.3 468.8L197.6 482.1L198.2 488.8L198.6 495.7L198.7 501.4M244.4 501.4L244.2 497.8L243.6 493.6L242.7 489.5L241.5 485.2L239.9 480.9L238.3 477.2L236.5 473.4L234.2 469.4L231.7 465.6L228.8 461.7L225.8 458.2L222.8 455.2L219.7 452.5L216.8 450.4L215.4 449.6L214.1 449.0L213.0 448.7L212.1 448.5L209.2 448.6L207.0 448.9L205.2 449.4L203.6 450.3L202.3 451.4L201.2 452.9L200.4 454.7L199.8 457.0L199.4 459.1L199.2 461.4L199.1 464.4L199.1 467.6L199.4 473.8L200.7 491.3L200.9 496.1L201.0 501.4M242.2 501.4L242.0 498.1L241.5 494.3L240.7 490.5L239.7 486.7L238.4 482.7L237.0 479.3L235.4 475.9L233.4 472.2L231.3 468.7L228.8 465.2L226.2 462.0L223.7 459.2L220.9 456.7L218.4 454.9L216.1 453.6L215.1 453.2L214.3 453.1L211.7 453.2L209.7 453.4L208.1 453.9L206.6 454.7L205.3 455.8L204.3 457.3L203.4 459.1L202.8 461.3L202.4 463.3L202.1 465.8L202.0 468.5L202.0 471.6L202.2 477.8L203.0 493.5L203.2 501.4M240.0 501.4L239.8 498.4L239.4 495.0L238.8 491.6L237.9 488.1L236.8 484.5L235.6 481.4L234.1 477.9L232.4 474.6L230.6 471.5L228.5 468.3L226.4 465.5L224.2 463.0L221.9 460.8L219.8 459.2L218.0 458.1L217.1 457.8L216.4 457.7L214.1 457.8L212.3 458.0L210.7 458.5L209.3 459.3L208.2 460.3L207.2 461.7L206.4 463.3L205.8 465.3L205.3 467.4L205.0 469.7L204.8 472.6L204.7 475.8L204.8 481.2L205.3 494.9L205.4 501.4M237.8 501.4L237.7 498.7L237.3 495.6L236.7 492.2L236.0 489.0L235.1 485.8L234.1 483.0L232.9 480.0L231.6 477.0L230.1 474.2L228.4 471.4L226.7 468.9L224.9 466.7L223.2 464.9L221.5 463.4L219.9 462.5L219.2 462.2L218.6 462.1L216.4 462.2L214.8 462.4L213.4 462.9L212.2 463.6L211.1 464.6L210.2 465.9L209.4 467.5L208.8 469.4L208.3 471.5L207.9 473.9L207.6 476.6L207.4 479.6L207.4 485.8L207.6 501.4M235.6 501.4L235.5 499.2L235.2 496.5L234.7 493.6L234.1 491.0L233.4 488.3L232.5 485.6L231.5 483.0L230.4 480.5L229.2 478.2L227.9 475.8L226.4 473.7L225.0 471.9L223.6 470.4L222.2 469.2L220.9 468.5L219.9 468.2L218.0 468.3L216.7 468.5L215.4 468.9L214.3 469.5L213.3 470.4L212.5 471.6L211.8 472.9L211.1 474.7L210.7 476.5L210.3 478.6L209.8 483.8L209.7 489.6L209.8 501.4M233.4 501.4L233.3 499.5L233.1 497.2L232.2 492.5L230.9 487.9L229.2 483.6L228.3 481.6L227.2 479.6L226.0 477.8L224.9 476.3L223.7 475.0L222.6 474.0L221.5 473.3L220.7 473.1L219.1 473.1L218.0 473.3L217.0 473.7L216.0 474.2L215.2 475.0L214.5 476.0L213.9 477.1L213.3 478.6L212.9 480.2L212.5 482.2L212.1 486.6L212.0 491.9L212.0 501.4M231.2 501.4L230.9 497.8L230.2 493.9L229.2 490.1L227.9 486.6L226.3 483.3L224.6 480.7L223.7 479.7L222.8 478.8L222.0 478.3L221.3 478.1L220.0 478.1L219.2 478.3L218.3 478.6L217.6 479.0L216.9 479.7L216.3 480.5L215.8 481.5L215.3 482.8L214.7 485.7L214.3 489.4L214.2 493.9L214.2 501.4M229.1 501.4L228.9 498.5L228.4 495.4L227.7 492.5L226.7 489.7L225.5 487.1L224.3 485.1L223.7 484.2L223.0 483.6L222.4 483.2L221.9 483.0L220.2 483.2L219.6 483.4L219.0 483.8L218.5 484.3L218.0 485.0L217.3 486.8L216.8 489.1L216.5 492.1L216.3 495.6L216.3 501.4M227.1 501.4L227.0 499.3L226.6 497.1L226.1 494.8L225.5 492.8L224.7 490.9L223.9 489.4L223.0 488.4L222.6 488.1L222.3 488.0L221.1 488.1L220.3 488.6L219.6 489.5L219.1 490.8L218.7 492.5L218.4 494.7L218.3 497.4L218.3 501.4" stroke="#2745fa" stroke-width="2.0"/>
<path d="M192.3 458.4L190.5 455.0L188.6 451.5L186.4 448.1L184.2 444.7L181.8 441.5L179.4 438.6L177.0 435.8L174.6 433.4L172.0 431.0L169.6 429.1L167.3 427.5L165.2 426.4L163.3 425.7L161.6 425.5L160.4 425.7L159.9 426.0L159.4 426.4L158.8 427.2L158.4 428.1L158.0 429.2L157.8 430.3L157.7 433.0L158.0 436.6L158.8 440.7L160.0 445.2L161.6 450.4L163.6 455.9L166.1 461.9L168.9 468.1L172.5 475.5L175.7 481.5L178.6 486.5L181.5 490.9L184.2 494.5L187.0 497.7L204.4 497.7L204.5 496.9L204.6 495.7L204.6 494.0L204.3 490.6L203.5 486.5L202.2 482.0L200.4 476.9L198.3 471.6L195.6 465.5L192.3 458.4ZM192.2 459.2L190.6 456.1L188.8 452.9L186.9 449.8L185.0 447.0L182.9 444.0L180.7 441.3L178.5 438.8L176.4 436.5L174.1 434.3L171.8 432.4L169.8 431.0L167.9 429.9L166.2 429.2L164.7 428.9L163.6 429.1L162.7 429.7L162.1 430.3L161.7 431.1L161.4 432.1L161.2 433.1L161.1 435.8L161.5 439.0L162.2 442.7L163.4 447.1L164.9 451.9L167.0 457.3L169.2 462.8L171.8 468.4L175.2 475.4L178.3 481.1L180.9 485.5L183.7 489.6L186.1 492.8L188.7 495.7L191.0 497.7L202.4 497.7L202.8 497.0L203.2 496.2L203.4 495.2L203.6 494.1L203.6 491.6L203.2 488.4L202.4 484.7L201.2 480.5L199.5 475.8L197.5 470.9L195.3 465.7L192.2 459.2ZM192.1 459.9L190.7 457.0L189.0 454.1L185.5 448.5L183.6 445.8L181.6 443.3L179.6 440.9L177.6 438.8L175.7 436.9L173.7 435.1L171.8 433.7L170.0 432.7L168.5 432.0L167.1 431.7L166.1 431.8L165.3 432.3L164.8 432.9L164.4 433.6L164.1 434.5L164.0 435.5L163.9 437.9L164.2 440.9L164.9 444.3L166.0 448.4L167.5 452.9L169.3 457.5L171.4 462.6L173.7 467.8L176.8 474.2L179.7 479.5L182.1 483.7L184.7 487.5L186.9 490.5L189.2 493.2L191.5 495.3L193.6 496.7L194.6 497.1L195.5 497.5L196.4 497.6L197.3 497.6L198.4 497.4L199.4 497.1L200.6 496.5L201.3 495.9L201.9 495.2L202.3 494.3L202.6 493.4L202.8 492.1L202.8 489.8L202.4 486.8L201.6 483.4L200.5 479.6L198.9 475.2L197.1 470.7L195.0 465.9L192.1 459.9ZM192.1 460.5L189.2 455.1L186.0 450.0L182.4 445.1L180.6 442.9L178.8 440.9L177.0 439.2L175.2 437.5L173.5 436.2L171.9 435.2L170.5 434.6L169.2 434.2L168.3 434.3L167.6 434.8L167.2 435.3L166.9 435.9L166.5 437.7L166.4 439.9L166.8 442.7L167.4 445.8L168.5 449.6L169.9 453.7L171.5 458.0L173.5 462.7L175.6 467.5L178.5 473.4L181.2 478.4L183.4 482.2L185.7 485.8L187.8 488.6L189.9 491.1L192.0 493.0L193.9 494.4L195.6 495.1L196.4 495.2L197.2 495.3L198.2 495.1L199.1 494.8L200.1 494.3L200.8 493.7L201.3 493.1L201.7 492.3L201.9 491.4L202.1 490.3L202.0 488.1L201.7 485.4L200.9 482.3L199.8 478.7L198.4 474.7L196.7 470.5L194.7 466.1L192.1 460.5ZM192.0 461.1L189.4 456.1L186.4 451.4L183.2 446.8L179.9 442.9L178.3 441.3L176.6 439.8L175.1 438.5L173.7 437.6L172.4 437.0L171.4 436.7L170.5 436.7L169.9 437.1L169.5 437.5L169.2 438.1L168.9 439.7L168.9 441.7L169.2 444.2L169.8 447.1L170.8 450.5L172.0 454.3L173.5 458.2L175.4 462.8L177.5 467.3L180.1 472.7L182.6 477.3L184.6 480.9L186.7 484.2L188.6 486.8L190.6 489.1L192.4 490.9L194.1 492.1L195.7 492.8L196.4 493.0L197.1 493.0L198.0 492.9L198.8 492.6L199.7 492.1L200.3 491.7L200.7 491.1L201.1 490.4L201.3 489.6L201.4 488.5L201.3 486.6L200.9 484.1L200.2 481.2L199.2 477.9L197.8 474.2L196.3 470.3L192.0 461.1ZM192.0 461.7L189.5 457.1L186.9 452.7L184.0 448.7L181.1 445.0L178.1 442.0L176.7 440.9L175.5 440.0L174.3 439.4L173.4 439.0L172.6 439.0L172.1 439.3L171.7 439.7L171.5 440.2L171.2 441.6L171.2 443.4L171.5 445.6L172.1 448.3L173.0 451.4L174.1 454.9L175.5 458.5L177.3 462.7L179.1 466.8L181.7 472.0L183.8 476.0L185.7 479.3L187.6 482.4L189.3 484.8L191.1 487.0L192.7 488.7L194.3 489.9L195.8 490.6L197.0 490.9L197.8 490.8L198.5 490.5L199.3 490.1L199.8 489.7L200.2 489.1L200.5 488.5L200.7 486.9L200.6 485.0L200.2 482.8L199.6 480.1L198.6 477.1L197.3 473.7L195.9 470.1L192.0 461.7ZM191.9 462.2L189.7 458.0L187.3 454.0L184.7 450.3L182.1 446.9L179.5 444.1L177.2 442.3L176.2 441.7L175.4 441.3L174.7 441.3L174.2 441.5L173.7 442.3L173.4 443.5L173.4 445.1L173.7 447.1L174.3 449.5L175.1 452.3L176.2 455.4L177.5 459.0L180.7 466.4L183.0 471.1L185.1 475.0L186.8 478.1L188.6 480.9L190.1 483.1L191.7 485.1L193.2 486.7L194.5 487.8L195.8 488.5L197.0 488.8L197.6 488.7L198.2 488.5L198.9 488.1L199.3 487.7L199.7 487.3L199.9 486.7L200.1 485.2L200.0 483.6L199.6 481.5L198.9 479.1L198.0 476.3L195.5 470.0L191.9 462.2ZM191.8 462.8L189.9 458.9L187.7 455.2L185.4 451.8L183.1 448.8L180.8 446.2L178.8 444.4L177.9 443.9L177.2 443.5L176.6 443.5L176.2 443.7L175.7 444.4L175.6 445.5L175.7 447.0L176.0 448.8L176.5 451.0L177.3 453.6L179.5 459.4L182.4 466.2L186.4 474.0L189.5 479.4L190.9 481.5L192.3 483.3L193.6 484.8L194.8 485.8L195.9 486.5L196.9 486.7L197.4 486.7L197.9 486.5L198.5 486.2L198.9 485.9L199.3 485.0L199.4 483.6L199.3 482.1L198.9 480.3L198.3 478.1L197.5 475.6L195.1 469.8L191.8 462.8ZM191.8 463.3L190.0 459.8L188.1 456.5L186.1 453.4L184.0 450.5L182.0 448.2L180.3 446.6L179.0 445.7L178.5 445.6L178.2 445.8L177.8 446.4L177.7 447.3L177.8 448.6L178.1 450.2L179.3 454.5L181.3 459.7L184.0 465.8L187.5 472.9L190.3 477.8L192.8 481.4L194.0 482.9L195.0 483.8L196.0 484.5L196.8 484.7L197.7 484.6L198.1 484.3L198.4 484.0L198.8 483.2L198.8 482.0L198.7 480.7L198.3 479.0L196.9 474.8L194.8 469.6L191.8 463.3ZM191.8 463.8L190.2 460.7L188.5 457.7L186.7 454.9L185.0 452.3L183.4 450.2L181.9 448.7L180.8 447.9L180.4 447.8L180.1 447.8L179.9 448.3L179.8 449.1L179.9 450.2L180.2 451.8L181.4 455.5L183.2 460.2L185.6 465.6L188.7 471.8L191.2 476.3L193.4 479.7L194.4 481.0L195.3 481.9L196.1 482.5L196.7 482.7L197.4 482.6L197.8 482.5L198.0 482.2L198.2 481.5L198.2 480.5L197.7 477.9L196.4 474.1L194.4 469.5L191.8 463.8ZM191.7 464.3L188.9 458.9L185.9 454.0L184.6 452.2L183.4 450.7L182.5 450.0L182.2 449.8L182.0 449.9L181.8 450.2L181.8 451.0L182.3 453.2L183.4 456.5L185.1 460.7L187.2 465.3L189.8 470.8L192.0 474.8L193.9 477.9L195.5 479.9L196.1 480.5L196.6 480.8L197.1 480.8L197.6 480.4L197.7 479.9L197.6 479.0L197.0 476.7L195.8 473.4L194.1 469.3L191.7 464.3ZM191.7 464.8L189.8 461.0L187.8 457.5L186.2 454.7L184.8 452.7L184.0 451.9L183.8 451.9L183.8 452.2L184.1 453.7L184.9 456.2L186.3 459.7L188.0 463.6L192.4 472.5L194.0 475.5L195.3 477.6L196.3 478.7L196.6 478.9L196.9 478.9L197.1 478.7L197.1 478.0L196.9 476.9L196.3 475.3L194.5 470.9L191.7 464.8Z" stroke="#6ef416" stroke-width="1.7"/>
<path d="M76.4 410.5L79.6 410.3L82.9 410.2L88.5 410.1L91.8 410.2L95.0 410.3L100.6 410.7L103.9 411.0L107.1 411.4L112.6 412.3L115.8 412.9L118.9 413.5L124.3 414.8L129.6 416.3L132.6 417.3L135.6 418.3L138.5 419.4L141.4 420.6L146.4 422.7L151.2 425.1L153.9 426.5L156.5 428.0L159.1 429.5L161.6 431.1L165.9 434.1L168.2 435.8L170.5 437.6L174.4 440.9L176.0 442.3L178.0 444.3L180.0 446.3L182.0 448.3L183.8 450.4L185.6 452.6L186.9 454.2L188.5 456.4L190.0 458.6L191.5 460.9L192.6 462.6L193.9 464.9L195.2 467.3L196.3 469.6L197.4 472.0L198.2 473.8L199.1 476.3L199.8 478.1L200.5 480.6L201.2 483.1L201.7 484.9L202.2 487.5L202.7 490.0L203.0 491.9L203.2 493.8L203.4 496.3L203.6 498.9L203.6 501.4" stroke="#ee150e" stroke-width="3.2"/>
</g>
<rect x="76.40" y="291.60" width="260.60" height="209.80" fill="none" stroke="#000" stroke-width="1.25"/>
<path d="M76.40 501.40v-3.0M76.40 291.60v3.0M128.52 501.40v-3.0M128.52 291.60v3.0M180.64 501.40v-3.0M180.64 291.60v3.0M232.76 501.40v-3.0M232.76 291.60v3.0M284.88 501.40v-3.0M284.88 291.60v3.0M337.00 501.40v-3.0M337.00 291.60v3.0M76.40 501.40h3.0M337.00 501.40h-3.0M76.40 459.44h3.0M337.00 459.44h-3.0M76.40 417.48h3.0M337.00 417.48h-3.0M76.40 375.52h3.0M337.00 375.52h-3.0M76.40 333.56h3.0M337.00 333.56h-3.0M76.40 291.60h3.0M337.00 291.60h-3.0" stroke="#000" stroke-width="1" fill="none"/>
<text transform="translate(76.40,526.00) scale(0.96,1)" font-size="21.4" text-anchor="middle">0</text>
<text transform="translate(128.52,526.00) scale(0.96,1)" font-size="21.4" text-anchor="middle">0.5</text>
<text transform="translate(180.64,526.00) scale(0.96,1)" font-size="21.4" text-anchor="middle">1</text>
<text transform="translate(232.76,526.00) scale(0.96,1)" font-size="21.4" text-anchor="middle">1.5</text>
<text transform="translate(284.88,526.00) scale(0.96,1)" font-size="21.4" text-anchor="middle">2</text>
<text transform="translate(337.00,526.00) scale(0.96,1)" font-size="21.4" text-anchor="middle">2.5</text>
<text transform="translate(70.90,509.20) scale(0.96,1)" font-size="21.4" text-anchor="end">0</text>
<text transform="translate(70.90,467.24) scale(0.96,1)" font-size="21.4" text-anchor="end">0.5</text>
<text transform="translate(70.90,425.28) scale(0.96,1)" font-size="21.4" text-anchor="end">1</text>
<text transform="translate(70.90,383.32) scale(0.96,1)" font-size="21.4" text-anchor="end">1.5</text>
<text transform="translate(70.90,341.36) scale(0.96,1)" font-size="21.4" text-anchor="end">2</text>
<text transform="translate(70.90,299.40) scale(0.96,1)" font-size="21.4" text-anchor="end">2.5</text>
<g transform="translate(147.10,554.50) scale(0.95,1)"><text x="0" y="0" font-size="21.0">v</text><text x="29.4" y="0" font-size="21.0"><tspan letter-spacing="0.5">(10</tspan><tspan dy="-10.0" font-size="14.0">4</tspan><tspan dy="10.0" font-size="21.0" letter-spacing="0"> km/s)</tspan></text><path d="M12.2 -0.2v10.7M15.7 -0.2v10.7" stroke="#000" stroke-width="1.9" fill="none"/></g>
<g transform="translate(20.80,457.40) rotate(-90) scale(0.9405,1.0)"><text x="0.0" y="0" font-size="21.0">v</text><text x="32.9" y="0" font-size="21.0"><tspan letter-spacing="-0.1">(10</tspan><tspan dy="-10.0" font-size="14.0">4</tspan><tspan dy="10.0" font-size="21.0" letter-spacing="1.0"> km/s)</tspan></text><path d="M10.5 10.10h9.91M15.46 10.10v-10.54" stroke="#111" stroke-width="1.35" fill="none"/></g>
<text transform="translate(80.60,321.40) scale(1.0148,1)" font-size="14.4">ω<tspan dy="7.7" font-size="10.6">pe</tspan><tspan dy="-7.7" font-size="14.4">/Ω</tspan><tspan dy="7.7" font-size="10.6">e</tspan><tspan dy="-7.7" font-size="14.4">=0.5, ω</tspan><tspan dy="7.7" font-size="10.6">k</tspan><tspan dy="-7.7" font-size="14.4">/Ω</tspan><tspan dy="7.7" font-size="10.6">e</tspan><tspan dy="-7.7" font-size="14.4">=1.00024, ϕ=1.62</tspan></text>
<clipPath id="cp3"><rect x="426.00" y="291.60" width="261.00" height="209.80"/></clipPath>
<g clip-path="url(#cp3)" fill="none" stroke-linejoin="round" stroke-linecap="butt">
<path d="M661.4 501.4L661.3 493.6L661.0 487.2L660.6 481.3L659.7 474.2L658.7 468.8L657.5 463.5L656.1 458.4L653.9 452.3L652.0 447.5L649.2 441.8L646.8 437.3L643.4 431.9L640.4 427.7L636.5 422.7L633.1 418.9L628.7 414.2L624.0 409.8L619.1 405.6L614.0 401.7L607.7 397.2L602.2 393.8L595.6 390.0L588.8 386.5L582.0 383.5L576.3 381.2L569.5 378.8L562.7 376.8L555.9 375.1L549.2 373.9L543.6 373.2L536.7 372.6L530.0 372.5L524.6 372.5L519.6 372.7L516.3 373.0L512.4 373.5L509.7 374.0L506.5 374.7L503.5 375.6L500.8 376.7L498.4 378.0L496.2 379.4L494.2 380.9L492.0 383.1L490.5 385.0L489.1 387.0L487.9 389.3L486.6 392.2L485.7 394.8L485.0 397.5L484.3 400.3L483.8 403.3L483.3 406.5L482.9 410.6L482.4 418.6L482.1 426.4L481.9 436.9L481.6 501.4M642.1 501.4L642.0 496.0L641.8 491.3L641.4 486.8L640.7 481.3L639.9 477.1L638.7 472.0L637.5 468.1L635.8 463.3L634.3 459.5L632.2 454.9L630.3 451.4L627.7 447.1L625.5 443.8L622.6 439.7L619.4 435.9L616.1 432.2L612.6 428.7L609.0 425.3L605.2 422.2L600.6 418.6L596.6 415.9L591.7 412.8L587.6 410.5L582.6 408.1L578.5 406.2L573.5 404.3L568.5 402.7L563.5 401.4L558.5 400.4L554.4 399.9L550.1 399.5L545.5 399.4L541.8 399.5L538.6 399.7L535.7 400.1L533.0 400.6L530.5 401.2L528.1 402.0L525.9 402.9L523.3 404.3L521.4 405.5L519.6 406.9L517.9 408.5L516.0 410.5L514.6 412.4L512.9 414.8L511.7 416.9L510.4 419.8L509.4 422.2L508.3 425.3L507.3 428.7L506.4 432.2L505.6 435.9L504.8 440.5L503.5 449.6L502.4 461.4L501.6 474.1L501.1 487.9L500.9 501.4M634.3 501.4L634.2 496.5L634.0 492.3L633.7 488.2L633.1 483.4L632.4 479.6L631.4 475.0L630.4 471.4L628.9 467.1L627.6 463.7L625.8 459.6L623.7 455.7L621.5 451.8L619.6 448.8L617.0 445.3L614.3 441.8L611.4 438.5L608.4 435.4L605.2 432.4L602.0 429.6L598.0 426.5L594.5 424.0L590.3 421.4L586.7 419.3L582.4 417.1L578.8 415.5L574.4 413.8L570.0 412.4L566.4 411.5L562.0 410.6L558.3 410.1L554.6 409.8L550.5 409.7L547.2 409.8L544.4 410.0L541.8 410.3L539.4 410.7L537.1 411.3L534.9 412.0L532.9 412.9L530.5 414.1L528.7 415.2L526.7 416.8L525.1 418.2L523.4 420.1L522.1 421.8L520.5 424.0L519.4 426.0L518.1 428.5L517.0 431.3L515.9 434.2L514.9 437.3L514.1 440.5L513.3 443.9L512.5 448.1L511.2 456.4L510.2 466.3L509.4 477.7L508.9 489.2L508.7 501.4M628.9 501.4L628.8 496.9L628.7 493.0L628.4 489.3L627.8 484.8L627.2 481.3L626.3 477.1L625.4 473.8L624.1 469.8L623.0 466.7L621.3 462.9L619.5 459.2L617.5 455.7L615.8 453.0L613.5 449.7L611.1 446.5L608.5 443.5L605.8 440.6L603.0 437.8L600.1 435.2L596.5 432.4L593.4 430.1L589.7 427.6L586.5 425.8L582.6 423.8L579.3 422.3L575.4 420.7L571.4 419.4L568.1 418.5L564.2 417.7L560.8 417.3L557.4 417.0L553.6 416.9L550.6 417.0L548.1 417.1L545.7 417.4L543.4 417.9L541.3 418.4L538.9 419.2L537.0 420.0L534.8 421.2L533.2 422.3L531.3 423.8L529.9 425.1L528.2 426.9L527.0 428.4L525.5 430.5L524.5 432.4L523.3 434.7L522.2 437.3L521.1 440.0L520.2 442.9L519.4 445.9L518.6 449.0L517.8 453.0L516.6 460.7L515.5 469.8L514.8 479.6L514.3 490.2L514.1 501.4M625.0 501.4L624.9 497.2L624.8 493.6L624.5 490.1L624.0 486.0L623.5 482.7L622.6 478.8L621.8 475.8L620.7 472.0L619.6 469.2L618.1 465.6L616.5 462.2L614.7 458.9L613.1 456.4L611.0 453.3L608.8 450.4L606.5 447.6L604.1 444.9L601.5 442.3L598.9 439.9L595.6 437.3L592.8 435.2L589.3 432.9L586.4 431.1L582.8 429.3L579.8 427.9L576.2 426.4L572.6 425.2L569.5 424.4L565.9 423.7L562.8 423.2L559.6 423.0L556.1 422.9L553.3 423.0L550.9 423.1L548.6 423.4L546.5 423.8L544.6 424.3L542.2 425.1L540.5 425.8L538.4 426.9L536.8 427.9L535.0 429.3L533.7 430.5L532.1 432.2L530.9 433.6L529.5 435.6L528.2 437.7L527.0 439.9L525.9 442.3L524.9 444.9L523.2 450.4L521.6 457.0L520.4 464.3L519.4 472.8L518.6 481.9L518.1 491.8L518.0 501.4M621.7 501.4L621.7 497.5L621.4 493.2L621.2 489.9L620.7 486.0L620.1 483.0L619.3 479.3L618.6 476.4L617.5 472.9L616.5 470.2L615.1 466.9L613.5 463.7L611.8 460.6L610.4 458.2L608.4 455.3L606.4 452.6L604.2 449.9L601.9 447.4L599.5 445.0L597.0 442.8L594.0 440.3L591.4 438.3L588.1 436.2L585.4 434.6L582.1 432.9L579.3 431.6L575.9 430.2L572.5 429.2L569.7 428.4L566.8 427.8L564.0 427.4L561.0 427.2L557.7 427.1L555.1 427.2L552.8 427.3L550.7 427.6L548.7 427.9L546.9 428.4L544.6 429.2L543.0 429.9L541.0 430.9L539.5 431.8L537.8 433.1L536.5 434.3L535.0 435.9L533.8 437.2L532.5 439.1L531.3 441.1L530.1 443.2L529.1 445.5L528.1 447.9L526.4 453.1L524.9 459.4L523.7 466.3L522.6 474.3L521.9 483.0L521.4 492.4L521.3 501.4M618.8 501.4L618.8 497.7L618.6 493.7L618.3 490.7L617.8 487.1L617.4 484.2L616.6 480.8L615.9 478.1L614.9 474.8L614.0 472.3L612.7 469.2L611.3 466.2L609.7 463.4L608.4 461.1L606.6 458.4L604.7 455.9L602.7 453.4L600.6 451.1L598.4 448.8L596.1 446.7L593.3 444.4L590.9 442.6L587.9 440.6L585.4 439.1L582.3 437.5L579.7 436.3L576.6 435.0L573.4 434.0L570.8 433.3L568.1 432.8L565.4 432.4L562.6 432.2L559.5 432.1L554.9 432.3L552.9 432.5L550.6 433.0L548.8 433.5L546.7 434.2L545.2 434.9L543.3 435.8L541.9 436.7L540.2 438.0L539.0 439.1L537.5 440.6L536.4 441.9L535.2 443.7L534.0 445.5L532.9 447.6L531.8 449.7L530.9 452.0L529.2 456.9L527.7 462.8L526.5 469.2L525.5 476.1L524.8 484.2L524.3 493.0L524.2 501.4M616.1 501.4L616.1 498.0L615.9 494.2L615.6 491.4L615.2 488.0L614.8 485.4L614.1 482.1L613.4 479.6L612.5 476.6L611.7 474.2L610.5 471.4L609.2 468.6L607.7 465.9L604.9 461.3L603.1 458.9L601.3 456.6L599.3 454.4L597.3 452.3L595.2 450.4L592.6 448.2L590.4 446.5L587.6 444.6L585.3 443.2L582.4 441.7L579.5 440.4L577.1 439.4L574.1 438.5L571.6 437.8L569.1 437.3L566.6 437.0L564.0 436.8L561.0 436.7L556.7 436.9L554.8 437.1L552.6 437.5L550.9 438.0L548.9 438.6L547.4 439.3L545.7 440.2L544.3 441.0L542.7 442.2L541.2 443.5L539.8 444.9L537.5 447.8L536.4 449.6L535.3 451.5L533.4 455.7L531.8 460.3L530.3 465.9L529.1 471.9L528.2 478.4L527.4 486.0L527.0 493.5L526.9 501.4M613.6 501.4L613.4 494.8L612.8 489.0L611.8 483.5L610.3 478.4L608.4 473.5L607.2 471.0L605.9 468.5L604.5 466.1L603.0 463.8L601.3 461.5L599.6 459.4L597.8 457.4L595.9 455.5L594.0 453.7L591.6 451.7L589.5 450.2L587.3 448.8L585.2 447.5L582.5 446.0L579.8 444.8L577.5 443.9L574.8 443.1L572.5 442.5L570.1 442.0L567.7 441.7L565.3 441.5L562.5 441.4L558.4 441.6L556.6 441.8L554.5 442.2L552.9 442.6L551.0 443.2L549.6 443.8L547.9 444.6L546.6 445.4L545.0 446.5L543.6 447.7L542.2 449.0L540.0 451.7L538.9 453.4L537.8 455.2L535.9 459.0L534.3 463.3L532.8 468.5L531.6 474.1L530.7 480.1L529.9 487.1L529.5 494.1L529.4 501.4M611.2 501.4L611.0 495.3L610.5 489.9L609.5 484.9L608.2 480.2L606.5 475.7L605.4 473.3L604.1 471.0L602.8 468.8L601.4 466.6L599.9 464.6L598.4 462.6L596.7 460.8L595.0 459.0L593.2 457.4L590.9 455.5L587.0 452.8L585.0 451.6L582.6 450.3L580.1 449.2L577.9 448.3L575.4 447.5L573.2 447.0L571.0 446.6L568.7 446.2L566.4 446.1L563.8 446.0L559.9 446.2L556.3 446.7L552.9 447.7L551.2 448.3L549.6 449.2L546.9 450.9L545.5 452.1L544.2 453.3L542.1 455.8L540.0 459.0L538.1 462.6L536.4 467.1L535.1 471.4L533.9 476.7L533.0 482.2L532.3 488.2L531.9 494.7L531.8 501.4M608.8 501.4L608.6 495.8L608.1 490.8L607.2 486.2L606.6 483.8L605.9 481.4L604.3 477.3L602.1 473.0L599.6 469.0L596.7 465.4L593.6 462.1L591.9 460.6L589.9 458.9L586.2 456.4L584.4 455.3L582.1 454.2L579.8 453.2L577.8 452.4L573.8 451.3L569.6 450.6L567.4 450.5L565.0 450.4L561.3 450.5L557.9 451.1L554.7 451.9L553.1 452.6L551.6 453.3L549.0 454.9L547.6 456.0L546.4 457.1L544.1 459.7L542.1 462.7L540.3 466.1L538.6 470.2L537.3 474.2L536.2 479.1L535.3 484.3L534.7 489.8L534.3 495.2L534.2 501.4M606.4 501.4L606.2 496.3L605.8 491.8L605.0 487.6L603.7 483.2L602.3 479.4L600.3 475.6L598.0 471.9L595.4 468.6L592.5 465.6L591.0 464.3L589.1 462.7L585.8 460.5L584.1 459.5L582.0 458.4L579.8 457.5L578.0 456.8L574.3 455.8L570.4 455.2L566.1 455.0L562.7 455.1L559.4 455.6L556.5 456.4L553.4 457.6L551.0 459.1L548.5 461.1L546.3 463.5L544.3 466.2L542.6 469.3L540.9 473.0L539.7 476.7L538.6 481.1L537.7 485.8L537.1 490.8L536.7 495.8L536.6 501.4M603.9 501.4L603.8 496.7L603.3 492.7L602.6 488.9L601.5 484.9L600.2 481.5L598.4 477.9L596.3 474.7L593.9 471.7L591.3 468.9L588.2 466.3L585.2 464.3L581.7 462.4L578.1 461.0L574.6 460.0L571.1 459.5L567.1 459.3L563.5 459.5L560.5 459.9L557.8 460.7L555.0 461.8L552.7 463.2L550.3 465.1L548.2 467.2L546.4 469.7L544.7 472.5L543.2 475.9L542.0 479.3L540.9 483.3L540.1 487.6L539.5 491.8L539.2 496.3L539.1 501.4M601.2 501.4L601.1 497.3L600.7 493.6L600.1 490.2L599.0 486.7L597.7 483.3L596.1 480.2L594.2 477.3L592.1 474.7L589.7 472.3L586.9 470.0L584.2 468.2L581.0 466.5L577.7 465.3L574.6 464.5L571.3 464.0L568.0 463.9L564.7 464.0L562.0 464.4L559.4 465.1L556.8 466.2L554.7 467.4L552.5 469.0L550.5 471.0L548.7 473.2L547.2 475.7L545.7 478.7L544.6 481.7L543.5 485.3L542.7 489.2L542.2 492.9L541.9 496.8L541.8 501.4M598.2 501.4L598.1 497.7L597.8 494.5L597.2 491.6L596.3 488.4L595.1 485.5L593.7 482.7L592.1 480.1L590.2 477.8L588.1 475.7L585.6 473.6L583.2 472.1L580.4 470.6L577.5 469.5L574.7 468.8L571.7 468.4L568.8 468.3L565.8 468.4L563.3 468.8L561.0 469.4L558.7 470.3L556.5 471.5L554.5 473.0L552.7 474.7L551.1 476.7L549.7 478.9L548.3 481.6L547.3 484.3L546.3 487.5L545.6 490.9L545.2 494.2L544.9 497.7L544.8 501.4M594.6 501.4L594.5 498.2L594.2 495.5L593.7 492.9L593.0 490.2L592.0 487.7L590.8 485.3L589.4 483.1L587.8 481.1L586.1 479.3L584.0 477.5L581.9 476.1L579.5 474.9L577.0 474.0L574.6 473.4L572.0 473.0L569.5 472.9L566.9 473.0L564.8 473.3L562.7 473.8L560.7 474.6L558.8 475.7L557.0 476.9L555.4 478.4L554.0 480.1L552.8 482.1L551.5 484.4L550.6 486.7L549.8 489.4L549.1 492.4L548.7 495.2L548.5 498.2L548.4 501.4M590.5 501.4L590.4 498.8L590.2 496.5L589.8 494.1L589.1 491.8L588.3 489.7L587.3 487.8L586.2 485.9L584.9 484.3L583.5 482.8L581.9 481.4L580.1 480.2L578.3 479.3L576.2 478.5L574.3 478.0L572.2 477.7L570.1 477.6L568.0 477.7L566.2 477.9L564.4 478.4L562.7 479.1L561.1 480.0L559.6 481.1L558.3 482.4L557.1 483.8L556.1 485.4L555.2 487.2L554.4 489.1L553.7 491.4L553.1 493.9L552.8 496.2L552.6 498.8L552.5 501.4M585.6 501.4L585.5 499.3L585.4 497.4L585.1 495.5L584.6 493.7L584.0 492.0L583.3 490.4L582.5 488.9L581.5 487.6L580.5 486.4L579.3 485.3L578.0 484.3L576.6 483.6L575.1 482.9L573.7 482.5L572.1 482.3L570.6 482.2L569.0 482.3L567.7 482.5L566.3 482.9L565.0 483.4L563.9 484.1L562.8 485.0L561.8 486.0L560.9 487.2L560.1 488.5L559.4 489.9L558.8 491.5L558.3 493.3L557.9 495.3L557.6 497.2L557.4 501.4M579.5 501.4L579.4 498.5L578.9 495.8L578.2 493.4L577.2 491.3L576.0 489.7L575.2 488.9L574.4 488.4L573.6 487.9L572.8 487.6L571.9 487.5L571.0 487.4L569.4 487.6L568.6 487.9L567.9 488.3L567.2 488.8L566.6 489.4L565.5 491.0L564.7 493.0L564.0 495.5L563.6 498.4L563.5 501.4" stroke="#2745fa" stroke-width="2.0"/>
<path d="M484.1 426.5L481.1 421.9L478.5 418.4L475.9 415.2L473.1 412.3L470.5 410.2L467.7 408.3L464.9 407.0L463.6 406.5L462.2 406.2L460.7 406.0L459.1 406.0L457.6 406.1L456.2 406.4L454.8 406.9L453.4 407.5L449.9 409.6L448.7 410.5L447.5 411.5L446.5 412.6L445.7 413.6L445.0 414.8L444.4 416.0L443.9 417.3L443.6 418.9L443.4 420.3L443.3 421.8L443.5 424.9L444.1 428.3L445.2 432.0L446.6 435.6L448.6 439.6L450.8 443.4L454.1 448.7L456.6 452.4L459.1 455.7L461.5 458.5L464.1 461.0L466.7 463.1L469.3 464.7L471.9 465.9L474.4 466.6L475.9 466.8L477.3 466.8L478.8 466.7L480.2 466.4L481.6 466.0L483.0 465.4L486.2 463.5L488.6 461.7L489.7 460.7L490.6 459.6L491.3 458.5L492.0 457.3L492.5 456.1L492.9 454.7L493.3 452.1L493.3 449.0L492.8 445.7L491.9 442.4L490.7 438.9L489.0 435.1L486.9 431.3L484.1 426.5ZM483.6 428.3L480.9 424.1L478.5 420.9L476.1 418.0L473.8 415.6L471.4 413.5L468.9 411.8L466.5 410.6L464.0 409.8L462.6 409.6L461.4 409.5L460.1 409.6L458.9 409.8L457.6 410.1L456.4 410.6L453.6 412.2L451.4 413.8L450.4 414.8L449.6 415.7L448.9 416.7L448.4 417.8L447.9 418.9L447.5 420.2L447.2 422.8L447.2 425.6L447.7 428.6L448.6 431.6L449.7 434.8L451.3 438.3L453.3 441.8L456.1 446.4L458.6 450.3L460.9 453.5L463.3 456.3L465.6 458.7L468.0 460.7L470.5 462.4L473.0 463.6L475.2 464.3L476.6 464.6L477.8 464.6L479.2 464.6L480.4 464.3L481.6 464.0L482.9 463.5L485.6 461.9L487.9 460.3L488.8 459.4L489.6 458.4L490.3 457.4L490.9 456.4L491.3 455.2L491.7 453.9L492.1 451.5L492.0 448.7L491.6 445.7L490.8 442.8L489.6 439.6L488.0 436.1L486.2 432.6L483.6 428.3ZM483.1 430.1L480.6 426.4L478.5 423.5L476.4 420.8L474.3 418.6L472.2 416.8L470.0 415.2L467.8 414.0L465.6 413.3L464.4 413.1L463.2 413.0L462.0 413.1L461.0 413.3L459.9 413.6L458.8 414.0L456.3 415.5L454.5 416.9L453.7 417.7L453.0 418.5L451.9 420.4L451.6 421.4L451.3 422.6L451.0 424.9L451.2 427.6L451.7 430.3L452.6 433.2L453.8 436.1L455.3 439.3L457.2 442.6L459.9 447.0L462.2 450.4L464.2 453.1L466.3 455.5L468.4 457.6L470.5 459.3L472.7 460.7L474.7 461.7L476.7 462.2L477.9 462.4L479.0 462.4L480.2 462.3L481.2 462.1L482.3 461.7L483.4 461.2L486.0 459.7L487.8 458.2L489.1 456.7L490.0 455.0L490.6 452.9L490.9 450.8L490.8 448.3L490.3 445.6L489.5 442.9L488.4 440.0L487.0 436.9L485.2 433.7L483.1 430.1ZM482.6 431.9L480.6 428.8L478.7 426.2L476.9 424.0L475.1 421.9L473.3 420.2L471.5 418.9L469.5 417.7L467.8 417.0L466.0 416.6L464.3 416.6L462.6 416.9L461.0 417.6L458.8 418.9L457.3 420.2L456.2 421.6L455.4 423.4L455.0 425.1L454.9 427.0L455.1 429.3L455.6 431.5L456.3 433.9L457.4 436.5L458.6 439.0L460.2 441.9L462.7 446.0L464.8 449.1L466.7 451.7L468.7 454.1L470.7 456.1L472.8 457.7L474.9 459.0L476.7 459.8L478.7 460.2L480.5 460.2L482.2 459.8L484.0 458.9L486.3 457.5L487.7 456.1L488.7 454.5L489.1 453.5L489.4 452.5L489.6 450.5L489.6 448.3L489.2 446.0L488.5 443.6L487.5 440.9L486.2 438.2L484.7 435.4L482.6 431.9ZM482.1 433.8L480.2 430.8L478.6 428.5L476.9 426.5L475.2 424.6L473.6 423.1L472.0 421.9L470.4 421.0L468.8 420.4L467.0 420.1L465.4 420.2L463.9 420.7L462.0 421.9L460.7 422.9L459.8 424.1L459.2 425.5L458.8 427.2L458.8 429.1L459.1 431.2L459.7 433.5L460.5 435.8L461.7 438.3L463.1 440.9L464.8 443.9L467.2 447.5L468.8 449.8L470.4 451.8L472.0 453.5L473.7 455.1L475.2 456.2L476.8 457.1L478.3 457.7L479.7 458.0L481.3 458.0L482.7 457.6L484.1 457.0L485.9 455.7L486.9 454.8L487.6 453.7L488.1 452.4L488.4 450.9L488.4 449.2L488.2 447.5L487.8 445.5L487.1 443.5L486.2 441.2L485.1 439.0L483.8 436.5L482.1 433.8ZM481.6 435.6L478.8 431.4L476.3 428.2L475.0 426.9L473.7 425.8L472.5 424.9L471.3 424.2L470.2 423.8L469.1 423.6L468.0 423.6L467.0 423.8L465.9 424.4L464.5 425.3L463.7 426.1L463.1 427.1L462.8 428.2L462.6 429.5L462.7 430.9L462.9 432.5L463.4 434.2L464.0 436.0L464.9 437.9L466.0 440.0L467.4 442.5L469.6 446.0L471.2 448.2L472.7 450.2L474.2 451.9L475.7 453.3L477.2 454.4L478.6 455.2L480.0 455.7L481.2 455.9L482.4 455.7L483.7 455.2L485.1 454.3L486.1 453.4L486.8 452.2L487.2 450.8L487.2 449.4L487.1 447.8L486.7 446.1L486.1 444.3L485.3 442.3L484.3 440.2L481.6 435.6ZM481.1 437.4L478.8 433.8L476.8 431.3L474.8 429.3L472.9 427.9L472.1 427.4L471.3 427.2L470.5 427.1L469.8 427.1L469.0 427.4L468.0 428.0L467.4 428.5L467.0 429.1L466.6 429.9L466.4 430.9L466.5 432.0L466.6 433.2L467.0 434.6L467.5 436.0L469.1 439.4L472.1 444.5L474.8 448.3L476.1 449.9L477.3 451.1L478.4 452.1L479.6 452.9L480.6 453.4L481.7 453.7L482.6 453.6L483.5 453.4L484.6 452.7L485.3 452.0L485.8 451.1L486.0 450.0L486.1 448.8L485.9 447.6L485.5 446.2L485.0 444.7L483.4 441.4L481.1 437.4ZM480.6 439.2L478.8 436.4L477.3 434.4L475.9 432.7L474.5 431.5L473.4 430.8L472.4 430.6L471.5 430.8L471.0 431.1L470.6 431.4L470.4 431.9L470.2 432.6L470.2 433.3L470.4 434.2L471.0 436.3L472.2 438.9L474.2 442.3L476.9 446.4L478.8 448.9L480.6 450.6L481.4 451.1L482.1 451.4L482.8 451.5L483.4 451.4L484.1 451.0L484.6 450.6L484.9 449.9L484.9 449.1L484.7 447.4L483.9 445.1L482.5 442.4L480.6 439.2ZM480.1 441.0L477.8 437.5L476.1 435.2L475.4 434.5L474.8 434.1L474.4 434.0L474.0 434.1L473.9 434.3L473.9 434.7L474.0 435.6L474.6 437.0L475.5 438.8L479.1 444.6L480.5 446.7L481.7 448.2L482.7 449.1L483.4 449.4L483.7 449.3L483.9 449.1L483.9 448.3L483.5 447.0L482.7 445.4L480.1 441.0Z" stroke="#6ef416" stroke-width="1.7"/>
<path d="M426.0 361.3L430.0 366.3L433.3 370.6L436.5 374.9L439.7 379.1L443.2 384.1L446.0 388.3L448.8 392.6L451.5 396.8L454.5 401.8L456.9 406.0L459.2 410.3L461.5 414.5L464.0 419.4L466.0 423.6L467.9 427.9L469.6 432.1L471.6 437.0L473.2 441.2L474.6 445.4L476.0 449.6L477.4 454.5L478.6 458.7L479.6 462.9L480.5 467.1L481.4 472.0L482.1 476.2L482.7 480.4L483.2 484.6L483.5 488.8L483.8 493.0L483.9 497.2L484.0 501.4" stroke="#ee150e" stroke-width="3.2"/>
</g>
<rect x="426.00" y="291.60" width="261.00" height="209.80" fill="none" stroke="#000" stroke-width="1.25"/>
<path d="M426.00 501.40v-3.0M426.00 291.60v3.0M478.20 501.40v-3.0M478.20 291.60v3.0M530.40 501.40v-3.0M530.40 291.60v3.0M582.60 501.40v-3.0M582.60 291.60v3.0M634.80 501.40v-3.0M634.80 291.60v3.0M687.00 501.40v-3.0M687.00 291.60v3.0M426.00 501.40h3.0M687.00 501.40h-3.0M426.00 459.44h3.0M687.00 459.44h-3.0M426.00 417.48h3.0M687.00 417.48h-3.0M426.00 375.52h3.0M687.00 375.52h-3.0M426.00 333.56h3.0M687.00 333.56h-3.0M426.00 291.60h3.0M687.00 291.60h-3.0" stroke="#000" stroke-width="1" fill="none"/>
<text transform="translate(426.00,526.00) scale(0.96,1)" font-size="21.4" text-anchor="middle">0</text>
<text transform="translate(478.20,526.00) scale(0.96,1)" font-size="21.4" text-anchor="middle">0.5</text>
<text transform="translate(530.40,526.00) scale(0.96,1)" font-size="21.4" text-anchor="middle">1</text>
<text transform="translate(582.60,526.00) scale(0.96,1)" font-size="21.4" text-anchor="middle">1.5</text>
<text transform="translate(634.80,526.00) scale(0.96,1)" font-size="21.4" text-anchor="middle">2</text>
<text transform="translate(687.00,526.00) scale(0.96,1)" font-size="21.4" text-anchor="middle">2.5</text>
<text transform="translate(420.50,509.20) scale(0.96,1)" font-size="21.4" text-anchor="end">0</text>
<text transform="translate(420.50,467.24) scale(0.96,1)" font-size="21.4" text-anchor="end">0.5</text>
<text transform="translate(420.50,425.28) scale(0.96,1)" font-size="21.4" text-anchor="end">1</text>
<text transform="translate(420.50,383.32) scale(0.96,1)" font-size="21.4" text-anchor="end">1.5</text>
<text transform="translate(420.50,341.36) scale(0.96,1)" font-size="21.4" text-anchor="end">2</text>
<text transform="translate(420.50,299.40) scale(0.96,1)" font-size="21.4" text-anchor="end">2.5</text>
<g transform="translate(496.90,554.50) scale(0.95,1)"><text x="0" y="0" font-size="21.0">v</text><text x="29.4" y="0" font-size="21.0"><tspan letter-spacing="0.5">(10</tspan><tspan dy="-10.0" font-size="14.0">4</tspan><tspan dy="10.0" font-size="21.0" letter-spacing="0"> km/s)</tspan></text><path d="M12.2 -0.2v10.7M15.7 -0.2v10.7" stroke="#000" stroke-width="1.9" fill="none"/></g>
<g transform="translate(370.40,457.40) rotate(-90) scale(0.9405,1.0)"><text x="0.0" y="0" font-size="21.0">v</text><text x="32.9" y="0" font-size="21.0"><tspan letter-spacing="-0.1">(10</tspan><tspan dy="-10.0" font-size="14.0">4</tspan><tspan dy="10.0" font-size="21.0" letter-spacing="1.0"> km/s)</tspan></text><path d="M10.5 10.10h9.91M15.46 10.10v-10.54" stroke="#111" stroke-width="1.35" fill="none"/></g>
<text transform="translate(430.20,321.40) scale(1.0148,1)" font-size="14.4">ω<tspan dy="7.7" font-size="10.6">pe</tspan><tspan dy="-7.7" font-size="14.4">/Ω</tspan><tspan dy="7.7" font-size="10.6">e</tspan><tspan dy="-7.7" font-size="14.4">=0.5, ω</tspan><tspan dy="7.7" font-size="10.6">k</tspan><tspan dy="-7.7" font-size="14.4">/Ω</tspan><tspan dy="7.7" font-size="10.6">e</tspan><tspan dy="-7.7" font-size="14.4">=1.00298, ϕ=1.71</tspan></text>
</svg>
</body></html>
